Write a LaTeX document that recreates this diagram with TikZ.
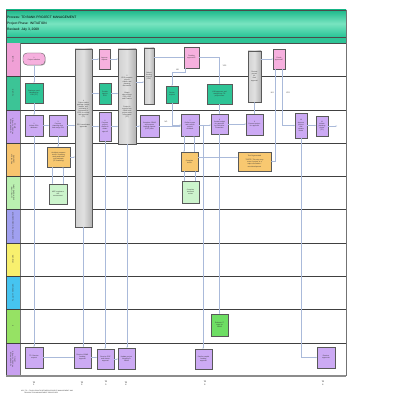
\documentclass[tikz,border=0pt]{standalone}
\usepackage{fontspec}
\setmainfont{Liberation Sans}
\usetikzlibrary{arrows.meta,shadows,calc}
\definecolor{cpink}{RGB}{246,176,222}
\definecolor{cteal}{RGB}{46,196,150}
\definecolor{cpurp}{RGB}{204,170,244}
\definecolor{corange}{RGB}{248,200,112}
\definecolor{clgreen}{RGB}{204,244,204}
\definecolor{cgreen}{RGB}{110,222,100}
\definecolor{cgray}{RGB}{200,200,200}
\definecolor{cline}{RGB}{170,186,218}
\definecolor{sPink}{RGB}{240,160,214}
\definecolor{sTeal}{RGB}{60,196,150}
\definecolor{sPurp}{RGB}{200,160,240}
\definecolor{sOrange}{RGB}{248,196,110}
\definecolor{sLGreen}{RGB}{186,240,176}
\definecolor{sBlue}{RGB}{160,160,240}
\definecolor{sYellow}{RGB}{248,240,110}
\definecolor{sCyan}{RGB}{70,196,240}
\definecolor{sGreen}{RGB}{150,226,100}
\tikzset{
  box/.style={draw=black!65, line width=0.35pt, inner sep=0pt, outer sep=0pt, align=center,
    font=\fontsize{1.7}{2.05}\selectfont, text=black!80,
    drop shadow={shadow xshift=0.7pt, shadow yshift=-0.7pt, fill=black!50}},
  sz/.style 2 args={text width=#1pt, minimum height=#2pt},
  pinkbox/.style={box, fill=cpink},
  tealbox/.style={box, fill=cteal},
  purpbox/.style={box, fill=cpurp},
  orangebox/.style={box, fill=corange},
  lgreenbox/.style={box, fill=clgreen},
  greenbox/.style={box, fill=cgreen},
  graybox/.style={box, left color=black!18, right color=black!30, middle color=black!12},
  conn/.style={draw=cline, line width=0.5pt, -{Stealth[length=1.4pt,width=1.2pt]}},
  lanel/.style={line width=0.8pt, draw=black!75},
  lanetxt/.style={rotate=90, font=\fontsize{1.8}{2.1}\selectfont, align=center, text=black!75, inner sep=0pt},
  lbl/.style={font=\fontsize{1.9}{2.2}\selectfont, text=black!70, inner sep=0pt},
  tpmark/.style={font=\bfseries\fontsize{1.9}{2.3}\selectfont, align=center, text=black!75, inner sep=0pt},
}
\begin{document}
\begin{tikzpicture}[x=1pt,y=-1pt]
\useasboundingbox[fill=white] (0,0) rectangle (414,414);
% header
\shade[top color={rgb,255:red,28;green,184;blue,138}, bottom color={rgb,255:red,40;green,196;blue,150}, middle color={rgb,255:red,120;green,228;blue,192}] (6,10) rectangle (346,37);
\fill[cteal] (6,37) rectangle (346,43);
\draw[black!70, line width=0.6pt] (6,10) rectangle (346,37);
\draw[black!70, line width=0.6pt] (6,43) -- (346,43);
\node[anchor=west, font=\fontsize{3.3}{4}\selectfont, inner sep=0pt] (h1) at (7,17) {Process: TD BANK PROJECT MANAGEMENT};
\node[anchor=west, font=\fontsize{3.3}{4}\selectfont, inner sep=0pt] (h2) at (7,23.5) {Project Phase: INITIATION};
\node[anchor=west, font=\fontsize{3.3}{4}\selectfont, inner sep=0pt] (h3) at (7,30) {Revised: July 3, 2009};
% lane strips
\foreach \ya/\yb/\c/\t in {43/76/sPink/TD LOB, 76/110/sTeal/TD CRE, 110/143/sPurp/{TD ENTERPRISE\\PROJECT OFFICE\\(EPO)}, 143/176/sOrange/{ARCHITECT\\(DESIGN)}, 176/209/sLGreen/{CONSULTING\\ENGINEERS (MEP)}, 209/243/sBlue/{CONSTRUCTION MANAGEMENT}, 243/276/sYellow/{VENDORS}, 276/309/sCyan/{FACILITY SERVICES}, 309/343/sGreen/{IT}, 343/376/sPurp/{TD ENTERPRISE\\PROJECT OFFICE\\(EPO)}}{
  \fill[\c] (6,\ya) rectangle (20,\yb);
  \draw[black!55, line width=0.3pt] (20,\ya) -- (20,\yb);
  \node[lanetxt] at (13,{(\ya+\yb)/2}) {\t};
}
\draw[black!70, line width=0.6pt] (6,10) -- (6,376);
\draw[black!55, line width=0.6pt] (346,10) -- (346,376);
\foreach \y in {76,110,143,176,209,243,276,309,343}{
  \draw[lanel] (6,\y) -- (346,\y);
}
\draw[black!45, line width=1.6pt] (6,376) -- (346,376);
% lane 1
\node[pinkbox, sz={22}{12}, rounded corners=4pt] (start) at (34,59) {1\\Project initiation};
\node[graybox, sz={17}{178}] (g1) at (83.5,138) {};
\node[align=center, font=\fontsize{1.7}{2.05}\selectfont, text=black!80, inner sep=0pt, text width=16pt] (g1t) at (83.5,114) {4\\Project intake\\package (scope,\\budget, site,\\schedule) is\\forwarded to\\EPO for review\\and approval\\(TP)\\[6pt]EPO coordinates\\approvals};
\node[pinkbox, sz={11}{20}] (p1) at (104.5,59) {Approve\\request};
\node[graybox, sz={18}{95}] (g2) at (127,96.5) {5\\EPO prepares\\project\\charter and\\planning\\documents\\[5pt]Obtain\\sign-off from\\LOB, CRE\\and Finance\\[5pt]Project is\\entered into\\CRMS and\\project team\\is assigned\\(TP)};
\node[graybox, sz={10}{56}] (g3) at (149,76) {Submit\\funding\\request\\(PRF)};
\node[pinkbox, sz={15}{21}] (p2) at (191.5,57.5) {Funding\\approved?};
\node[graybox, sz={13}{51}] (g4) at (254.5,76.5) {Review\\project\\for\\final\\approval};
\node[pinkbox, sz={12}{20}] (p3) at (279,59) {Funds\\approved?};
% lane 2
\node[tealbox, sz={18}{20}] (t1) at (34,93) {Business need\\identified by\\LOB (TP)};
\node[tealbox, sz={12}{21}] (t2) at (105,93.5) {Provide\\input to\\EPO};
\node[tealbox, sz={12}{17}] (t3) at (172,94.5) {Revise\\request};
\node[tealbox, sz={25}{20}] (t4) at (219.5,94) {LOB approves and\\assigns key TD\\project team};
% lane 3
\node[purpbox, sz={18}{21}] (u1) at (34,125.5) {2\\Initiate PCA\\database};
\node[purpbox, sz={18}{21}] (u2) at (58,125.5) {3\\Prepare\\planning docs\\and assign PM};
\node[purpbox, sz={12}{29}] (u3) at (105,126.5) {6\\Prepare\\project\\charter \&\\obtain\\sign-off};
\node[purpbox, sz={19}{22}] (u4) at (149.5,126) {Complete CRMS\\and prepare\\funding request\\(PRF) docs};
\node[purpbox, sz={18}{22}] (u5) at (190,125) {7\\Define scope\\and confirm\\project\\schedule};
\node[purpbox, sz={17}{20}] (u6) at (219.5,124) {8\\Create budget\\for approval\\by Executive\\Committee};
\node[purpbox, sz={17}{21}] (u7) at (254.5,124.5) {9\\Present project\\for approval};
\node[purpbox, sz={12}{25}] (u8) at (301,125.5) {10\\Approve\\project\\and\\release\\funds};
\node[purpbox, sz={12}{20}] (u9) at (322,126) {11\\Initiate\\planning\\phase\\(TP)};
% lane 4
\node[orangebox, sz={23}{20}] (o1) at (58.5,157) {Architect prepares\\test fit / massing\\study and initial\\cost estimate\\(TP feasibility)};
\node[orangebox, sz={17}{19}] (o2) at (189.5,161.5) {Complete\\test fit};
\node[orangebox, sz={33}{19}] (o3) at (254.5,161.5) {Test fit generated\\[2pt]TSE/TE: This step may\\occur if project is a\\major renovation /\\new development};
% lane 5
\node[lgreenbox, sz={18}{20}] (l1) at (58,194) {MEP engineers\\site\\assessment};
\node[lgreenbox, sz={17}{22}] (l2) at (190.5,192) {Complete\\structural\\review};
% lane 9
\node[greenbox, sz={17}{22}] (gr1) at (219.5,325) {Estimate IT\\costs for\\CRMS};
% lane 10
\node[purpbox, sz={18}{21}] (v1) at (34,357.5) {TP: Receive\\request};
\node[purpbox, sz={17}{21}] (v2) at (82.5,357.5) {Receive CRMS\\funding\\approval};
\node[purpbox, sz={17}{20}] (v3) at (105.5,359) {Receive PRF\\and charter\\approval};
\node[purpbox, sz={17}{21}] (v4) at (126.5,358.5) {Update project\\schedule in\\CRMS};
\node[purpbox, sz={17}{20}] (v5) at (203.5,359) {Confirm capital\\funding\\approval};
\node[purpbox, sz={18}{21}] (v6) at (326,357.5) {Receive\\approvals};
% connectors
\draw[conn] (start.south) -- (t1.north);
\draw[conn] (t1.south) -- (u1.north);
\draw[conn] (u1.east) -- (u2.west);
\draw[conn] (u2.east) -- (g1.west |- u2.east);
\draw[conn] (u2.south) -- (u2.south |- o1.north);
\draw[conn] (o1.east) -- (g1.west |- o1.east);
\draw[conn] ([xshift=-6pt]o1.south) -- ([xshift=-6pt]o1.south |- l1.north);
\draw[conn] ([xshift=5pt]l1.north) -- ([xshift=5pt]l1.north |- o1.south);
\draw[conn] (g1.east |- p1.west) -- (p1.west);
\draw[conn] (g1.east |- t2.west) -- (t2.west);
\draw[conn] (g1.east |- u3.west) -- (u3.west);
\draw[conn] (p1.east) -- (g2.west |- p1.east);
\draw[conn] (t2.east) -- (g2.west |- t2.east);
\draw[conn] (u3.east) -- (g2.west |- u3.east);
\draw[conn] ([yshift=-6pt]g3.west -| g2.east) -- ([yshift=-6pt]g3.west);
\draw[conn] (g2.east |- u4.west) -- (u4.west);
\draw[conn] (g3.east |- p2.west) -- (p2.west);
\draw[conn] ([xshift=-6.5pt]p2.south) -- ++(0,4) -| (t3.north);
\node[lbl] (lno1) at (177.5,69.5) {NO};
\draw[conn] (t3.south) |- (u5.west);
\node[lbl] (lno2) at (166,121.5) {NO};
\draw[conn] (u4.east) -- (u5.west |- u4.east);
\draw[conn] (p2.east) -| (t4.north);
\node[lbl] (lyes1) at (224.5,66) {YES};
\draw[conn] (t4.south) -- (u6.north);
\draw[conn] (u5.east) -- (u6.west |- u5.east);
\coordinate (br) at (203,125);
\draw[conn] (br) -- (br |- v5.north);
\draw[conn] (u6.east) -- (u7.west |- u6.east);
\draw[conn] (u7.north) -- (g4.south);
\draw[conn] (g4.east |- p3.west) -- (p3.west);
\draw[conn] ([xshift=3pt]p3.south) |- (u8.west);
\node[lbl] (lyes2) at (288,93) {YES};
\draw[conn] ([xshift=-4pt]p3.south) |- (o3.east);
\node[lbl, anchor=east] (lno3) at (274,93) {NO};
\draw[conn] (u8.east) -- (u9.west |- u8.east);
\coordinate (u9out) at (337,126);
\draw[conn] (u9.east) -- (u9out);
\draw[conn] (u8.south) |- (v6.west);
\draw[conn] ([xshift=-6pt]u5.south) -- ([xshift=-6pt]u5.south |- o2.north);
\draw[conn] ([xshift=4.5pt]o2.north) -- ([xshift=4.5pt]o2.north |- u5.south);
\draw[conn] ([yshift=4pt]o2.east) -- ([yshift=4pt]o3.west);
\draw[conn] ([xshift=-5pt]o2.south) -- ([xshift=-5pt]o2.south |- l2.north);
\draw[conn] ([xshift=5pt]l2.north) -- ([xshift=5pt]l2.north |- o2.south);
\draw[conn] (u1.south) -- (v1.north);
\draw[conn] (g1.south) -- (g1.south |- v2.north);
\draw[conn] (u3.south) -- (u3.south |- v3.north);
\draw[conn] (g2.south) -- (g2.south |- v4.north);
\draw[conn] (u6.south) -- (u6.south |- gr1.north);
\draw[conn] (v1.east) -- (v2.west |- v1.east);
\draw[conn] (v2.east) -- (v3.west |- v2.east);
\draw[conn] (v3.east) -- (v4.west |- v3.east);
% TP markers
\foreach \x/\n in {34/1,82/2,106/3,126/4,205/5,323/6}{
  \node[tpmark] at (\x,383.5) {TP\\\n};
}
\node[anchor=west, align=left, font=\fontsize{1.6}{2.1}\selectfont, inner sep=0pt, text=black!80] (key) at (21,391.5) {KEY: TP = TOUCH POINTS BETWEEN PROJECT MANAGEMENT AND\\\hspace*{3pt}TRANSACTION MANAGEMENT PROCESSES};
\end{tikzpicture}
\end{document}
